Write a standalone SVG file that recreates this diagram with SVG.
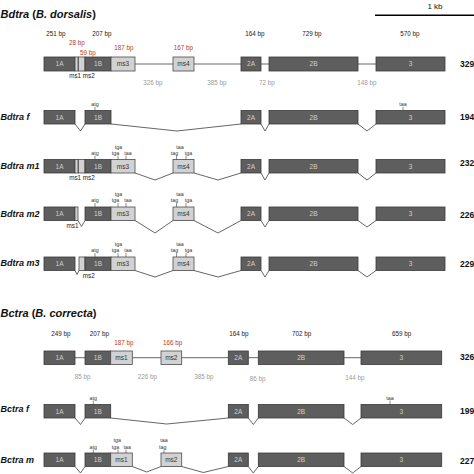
<svg xmlns="http://www.w3.org/2000/svg" width="474" height="474" viewBox="0 0 474 474">
<style>
.dk{fill:#5e5e5e;stroke:#3a3a3a;stroke-width:0.8}
.lt{fill:#d2d2d2;stroke:#4a4a4a;stroke-width:0.8}
.ln{fill:none;stroke:#555;stroke-width:0.9}
.tk{stroke:#444;stroke-width:0.6}
text{font-family:"Liberation Sans",Arial,sans-serif}
.bt{font-size:6.5px;fill:#d0d0d0;text-anchor:middle}
.lbt{font-size:6.5px;fill:#333;text-anchor:middle}
.bp{font-size:6.3px;fill:#222;text-anchor:middle}
.red{fill:#c0392b}
.gr{fill:#9a9a9a}
.cd{font-size:5.3px;fill:#333;text-anchor:middle}
.rn{font-size:8.5px;font-weight:bold;fill:#111}
.tt{font-size:11px;font-weight:bold;fill:#111}
.rl{font-size:9px;font-weight:bold;font-style:italic;fill:#111}
</style>

<!-- titles and scale -->
<text class="tt" x="0.5" y="17.5"><tspan font-style="italic">Bdtra</tspan> (<tspan font-style="italic">B. dorsalis</tspan>)</text>
<text class="tt" x="0.5" y="317"><tspan font-style="italic">Bctra</tspan> (<tspan font-style="italic">B. correcta</tspan>)</text>
<g id="scale">
<line x1="375" y1="15.3" x2="476" y2="15.3" stroke="#000" stroke-width="1.5"/>
<text x="435" y="8.5" font-size="8px" text-anchor="middle" fill="#111">1 kb</text>
</g>

<!-- connectors (introns and splice lines) -->
<g id="connectors">
<!-- Bdtra gene -->
<line class="ln" x1="135" y1="64" x2="173" y2="64"/>
<line class="ln" x1="194" y1="64" x2="241" y2="64"/>
<line class="ln" x1="261" y1="64" x2="269" y2="64"/>
<line class="ln" x1="358" y1="64" x2="376" y2="64"/>
<!-- Bdtra f -->
<polyline class="ln" points="75,124 80.5,131 85,124"/>
<polyline class="ln" points="111,124 177,131 241,124"/>
<polyline class="ln" points="261,124 265,131 269,124"/>
<polyline class="ln" points="358,124 367,131 376,124"/>
<!-- Bdtra m1 -->
<polyline class="ln" points="135,173 155,180 173,173"/>
<polyline class="ln" points="194,173 218,180 241,173"/>
<polyline class="ln" points="261,173 265,180 269,173"/>
<polyline class="ln" points="358,173 367,180 376,173"/>
<!-- Bdtra m2 -->
<polyline class="ln" points="78,220.5 81.5,226.5 85,220.5"/>
<polyline class="ln" points="135,220.5 155,233 173,220.5"/>
<polyline class="ln" points="194,220.5 218,233 241,220.5"/>
<polyline class="ln" points="261,220.5 265,227 269,220.5"/>
<polyline class="ln" points="358,220.5 367,227 376,220.5"/>
<!-- Bdtra m3 -->
<polyline class="ln" points="75,270.5 77,274.5 79,270.5"/>
<polyline class="ln" points="135,270.5 155,277 173,270.5"/>
<polyline class="ln" points="194,270.5 218,277 241,270.5"/>
<polyline class="ln" points="261,270.5 265,277 269,270.5"/>
<polyline class="ln" points="358,270.5 367,277 376,270.5"/>
<!-- Bctra gene -->
<line class="ln" x1="75" y1="357.7" x2="85" y2="357.7"/>
<line class="ln" x1="132.3" y1="357.7" x2="161" y2="357.7"/>
<line class="ln" x1="181.7" y1="357.7" x2="228.3" y2="357.7"/>
<line class="ln" x1="248.3" y1="357.7" x2="258.3" y2="357.7"/>
<line class="ln" x1="344" y1="357.7" x2="361" y2="357.7"/>
<!-- Bctra f -->
<polyline class="ln" points="75,418 80.5,424.5 85,418"/>
<polyline class="ln" points="110.7,418 166.7,424 228.3,418"/>
<polyline class="ln" points="248.3,418 253.3,424.5 258.3,418"/>
<polyline class="ln" points="344,418 352.7,424.5 361,418"/>
<!-- Bctra m -->
<polyline class="ln" points="75,466.5 80.5,473 85,466.5"/>
<polyline class="ln" points="132.3,466.5 146.7,472 161,466.5"/>
<polyline class="ln" points="181.7,466.5 203.3,472.5 228.3,466.5"/>
<polyline class="ln" points="248.3,466.5 253.3,473 258.3,466.5"/>
<polyline class="ln" points="344,466.5 352.7,473 361,466.5"/>
</g>

<!-- ===== Bdtra gene ===== -->
<g id="d0">
<g id="d0-1A"><rect class="dk" x="44" y="57" width="31" height="14"/><text class="bt" x="59.5" y="66.3">1A</text></g>
<g id="d0-ms1"><rect class="lt" x="75" y="57" width="3" height="14"/></g>
<g id="d0-ms2"><rect class="lt" x="78.5" y="57" width="6.5" height="14"/></g>
<g id="d0-1B"><rect class="dk" x="85" y="57" width="26" height="14"/><text class="bt" x="98" y="66.3">1B</text></g>
<g id="d0-ms3"><rect class="lt" x="111" y="57" width="24" height="14"/><text class="lbt" x="123" y="66.3">ms3</text></g>
<g id="d0-ms4"><rect class="lt" x="173" y="57" width="21" height="14"/><text class="lbt" x="183.5" y="66.3">ms4</text></g>
<g id="d0-2A"><rect class="dk" x="241" y="57" width="20" height="14"/><text class="bt" x="251" y="66.3">2A</text></g>
<g id="d0-2B"><rect class="dk" x="269" y="57" width="89" height="14"/><text class="bt" x="313.5" y="66.3">2B</text></g>
<g id="d0-3"><rect class="dk" x="376" y="57" width="69" height="14"/><text class="bt" x="410.5" y="66.3">3</text></g>
<text class="bp" x="56" y="36">251 bp</text>
<text class="bp" x="102" y="36">207 bp</text>
<text class="bp red" x="77" y="44.5">28 bp</text>
<text class="bp red" x="88" y="54.5">59 bp</text>
<text class="bp red" x="124" y="50">187 bp</text>
<text class="bp red" x="183.5" y="50">167 bp</text>
<text class="bp" x="255" y="36">164 bp</text>
<text class="bp" x="312" y="36">729 bp</text>
<text class="bp" x="410" y="36">570 bp</text>
<text class="bp" x="82" y="78">ms1 ms2</text>
<text class="bp gr" x="153" y="84.5">326 bp</text>
<text class="bp gr" x="217" y="84.5">385 bp</text>
<text class="bp gr" x="267" y="84.5">72 bp</text>
<text class="bp gr" x="367" y="84.5">148 bp</text>
<text class="rn" x="460" y="66.5">329</text>
</g>

<!-- ===== Bdtra f ===== -->
<g id="df">
<text class="rl" x="0.5" y="120">Bdtra f</text>
<g id="df-1A"><rect class="dk" x="44" y="110.5" width="31" height="13.5"/><text class="bt" x="59.5" y="119.5">1A</text></g>
<g id="df-1B"><rect class="dk" x="85" y="110.5" width="26" height="13.5"/><text class="bt" x="98" y="119.5">1B</text></g>
<g id="df-2A"><rect class="dk" x="241" y="110.5" width="20" height="13.5"/><text class="bt" x="251" y="119.5">2A</text></g>
<g id="df-2B"><rect class="dk" x="269" y="110.5" width="89" height="13.5"/><text class="bt" x="313.5" y="119.5">2B</text></g>
<g id="df-3"><rect class="dk" x="376" y="110.5" width="69" height="13.5"/><text class="bt" x="410.5" y="119.5">3</text></g>
<text class="cd" x="95" y="106">atg</text><line class="tk" x1="95" y1="106.8" x2="95" y2="110.5"/>
<text class="cd" x="403" y="106">taa</text><line class="tk" x1="403" y1="106.8" x2="403" y2="110.5"/>
<text class="rn" x="460" y="120">194</text>
</g>

<!-- ===== Bdtra m1 ===== -->
<g id="dm1">
<text class="rl" x="0.5" y="169">Bdtra m1</text>
<g id="dm1-1A"><rect class="dk" x="44" y="159.5" width="31" height="13.5"/><text class="bt" x="59.5" y="168.5">1A</text></g>
<g id="dm1-ms1"><rect class="lt" x="75" y="159.5" width="3" height="13.5"/></g>
<g id="dm1-ms2"><rect class="lt" x="78.5" y="159.5" width="6.5" height="13.5"/></g>
<g id="dm1-1B"><rect class="dk" x="85" y="159.5" width="26" height="13.5"/><text class="bt" x="98" y="168.5">1B</text></g>
<g id="dm1-ms3"><rect class="lt" x="111" y="159.5" width="24" height="13.5"/><text class="lbt" x="123" y="168.5">ms3</text></g>
<g id="dm1-ms4"><rect class="lt" x="173" y="159.5" width="21" height="13.5"/><text class="lbt" x="183.5" y="168.5">ms4</text></g>
<g id="dm1-2A"><rect class="dk" x="241" y="159.5" width="20" height="13.5"/><text class="bt" x="251" y="168.5">2A</text></g>
<g id="dm1-2B"><rect class="dk" x="269" y="159.5" width="89" height="13.5"/><text class="bt" x="313.5" y="168.5">2B</text></g>
<g id="dm1-3"><rect class="dk" x="376" y="159.5" width="69" height="13.5"/><text class="bt" x="410.5" y="168.5">3</text></g>
<text class="bp" x="82" y="180">ms1 ms2</text>
<text class="cd" x="95" y="154.5">atg</text><line class="tk" x1="95" y1="155.5" x2="95" y2="159.5"/>
<text class="cd" x="118.5" y="148.5">tga</text>
<text class="cd" x="115.5" y="154.5">tga</text><text class="cd" x="128" y="154.5">taa</text>
<line class="tk" x1="118" y1="155.5" x2="118" y2="159.5"/><line class="tk" x1="126" y1="155.5" x2="126" y2="159.5"/>
<text class="cd" x="180" y="148.5">taa</text>
<text class="cd" x="174.5" y="154.5">tag</text><text class="cd" x="188.5" y="154.5">tga</text>
<line class="tk" x1="176.5" y1="155.5" x2="176.5" y2="159.5"/><line class="tk" x1="186" y1="155.5" x2="186" y2="159.5"/>
<text class="rn" x="460" y="166">232</text>
</g>

<!-- ===== Bdtra m2 ===== -->
<g id="dm2">
<text class="rl" x="0.5" y="216.5">Bdtra m2</text>
<g id="dm2-1A"><rect class="dk" x="44" y="207" width="31" height="13.5"/><text class="bt" x="59.5" y="216">1A</text></g>
<g id="dm2-ms1"><rect class="lt" x="75" y="207" width="3" height="13.5"/></g>
<g id="dm2-1B"><rect class="dk" x="85" y="207" width="26" height="13.5"/><text class="bt" x="98" y="216">1B</text></g>
<g id="dm2-ms3"><rect class="lt" x="111" y="207" width="24" height="13.5"/><text class="lbt" x="123" y="216">ms3</text></g>
<g id="dm2-ms4"><rect class="lt" x="173" y="207" width="21" height="13.5"/><text class="lbt" x="183.5" y="216">ms4</text></g>
<g id="dm2-2A"><rect class="dk" x="241" y="207" width="20" height="13.5"/><text class="bt" x="251" y="216">2A</text></g>
<g id="dm2-2B"><rect class="dk" x="269" y="207" width="89" height="13.5"/><text class="bt" x="313.5" y="216">2B</text></g>
<g id="dm2-3"><rect class="dk" x="376" y="207" width="69" height="13.5"/><text class="bt" x="410.5" y="216">3</text></g>
<text class="bp" x="72.5" y="228">ms1</text>
<text class="cd" x="95" y="202">atg</text><line class="tk" x1="95" y1="203" x2="95" y2="207"/>
<text class="cd" x="118.5" y="196">tga</text>
<text class="cd" x="115.5" y="202">tga</text><text class="cd" x="128" y="202">taa</text>
<line class="tk" x1="118" y1="203" x2="118" y2="207"/><line class="tk" x1="126" y1="203" x2="126" y2="207"/>
<text class="cd" x="180" y="196">taa</text>
<text class="cd" x="174.5" y="202">tag</text><text class="cd" x="188.5" y="202">tga</text>
<line class="tk" x1="176.5" y1="203" x2="176.5" y2="207"/><line class="tk" x1="186" y1="203" x2="186" y2="207"/>
<text class="rn" x="460" y="218">226</text>
</g>

<!-- ===== Bdtra m3 ===== -->
<g id="dm3">
<text class="rl" x="0.5" y="265.5">Bdtra m3</text>
<g id="dm3-1A"><rect class="dk" x="44" y="257" width="31" height="13.5"/><text class="bt" x="59.5" y="266">1A</text></g>
<g id="dm3-ms2"><rect class="lt" x="79" y="257" width="6" height="13.5"/></g>
<g id="dm3-1B"><rect class="dk" x="85" y="257" width="26" height="13.5"/><text class="bt" x="98" y="266">1B</text></g>
<g id="dm3-ms3"><rect class="lt" x="111" y="257" width="24" height="13.5"/><text class="lbt" x="123" y="266">ms3</text></g>
<g id="dm3-ms4"><rect class="lt" x="173" y="257" width="21" height="13.5"/><text class="lbt" x="183.5" y="266">ms4</text></g>
<g id="dm3-2A"><rect class="dk" x="241" y="257" width="20" height="13.5"/><text class="bt" x="251" y="266">2A</text></g>
<g id="dm3-2B"><rect class="dk" x="269" y="257" width="89" height="13.5"/><text class="bt" x="313.5" y="266">2B</text></g>
<g id="dm3-3"><rect class="dk" x="376" y="257" width="69" height="13.5"/><text class="bt" x="410.5" y="266">3</text></g>
<text class="bp" x="88.7" y="277.5">ms2</text>
<text class="cd" x="95" y="252">atg</text><line class="tk" x1="95" y1="253" x2="95" y2="257"/>
<text class="cd" x="118.5" y="245.5">tga</text>
<text class="cd" x="115.5" y="252">tga</text><text class="cd" x="128" y="252">taa</text>
<line class="tk" x1="118" y1="253" x2="118" y2="257"/><line class="tk" x1="126" y1="253" x2="126" y2="257"/>
<text class="cd" x="180" y="245.5">taa</text>
<text class="cd" x="174.5" y="252">tag</text><text class="cd" x="188.5" y="252">tga</text>
<line class="tk" x1="176.5" y1="253" x2="176.5" y2="257"/><line class="tk" x1="186" y1="253" x2="186" y2="257"/>
<text class="rn" x="460" y="266.5">229</text>
</g>

<!-- ===== Bctra gene ===== -->
<g id="c0">
<g id="c0-1A"><rect class="dk" x="44" y="351" width="31" height="13.5"/><text class="bt" x="59.5" y="360">1A</text></g>
<g id="c0-1B"><rect class="dk" x="85" y="351" width="25.7" height="13.5"/><text class="bt" x="97.8" y="360">1B</text></g>
<g id="c0-ms1"><rect class="lt" x="110.7" y="351" width="21.6" height="13.5"/><text class="lbt" x="121.5" y="360">ms1</text></g>
<g id="c0-ms2"><rect class="lt" x="161" y="351" width="20.7" height="13.5"/><text class="lbt" x="171.3" y="360">ms2</text></g>
<g id="c0-2A"><rect class="dk" x="228.3" y="351" width="20" height="13.5"/><text class="bt" x="238.3" y="360">2A</text></g>
<g id="c0-2B"><rect class="dk" x="258.3" y="351" width="85.7" height="13.5"/><text class="bt" x="301.2" y="360">2B</text></g>
<g id="c0-3"><rect class="dk" x="361" y="351" width="80.7" height="13.5"/><text class="bt" x="401.3" y="360">3</text></g>
<text class="bp" x="61" y="336">249 bp</text>
<text class="bp" x="99.3" y="336">207 bp</text>
<text class="bp red" x="124" y="345">187 bp</text>
<text class="bp red" x="172.7" y="345">166 bp</text>
<text class="bp" x="239" y="336">164 bp</text>
<text class="bp" x="301.7" y="336">702 bp</text>
<text class="bp" x="401.7" y="336">659 bp</text>
<text class="bp gr" x="82.7" y="379">85 bp</text>
<text class="bp gr" x="147.3" y="379">226 bp</text>
<text class="bp gr" x="204" y="379">385 bp</text>
<text class="bp gr" x="257.7" y="380.5">86 bp</text>
<text class="bp gr" x="355" y="379.5">144 bp</text>
<text class="rn" x="460" y="360">326</text>
</g>

<!-- ===== Bctra f ===== -->
<g id="cf">
<text class="rl" x="0.5" y="412">Bctra f</text>
<g id="cf-1A"><rect class="dk" x="44" y="404.5" width="31" height="13.5"/><text class="bt" x="59.5" y="413.5">1A</text></g>
<g id="cf-1B"><rect class="dk" x="85" y="404.5" width="25.7" height="13.5"/><text class="bt" x="97.8" y="413.5">1B</text></g>
<g id="cf-2A"><rect class="dk" x="228.3" y="404.5" width="20" height="13.5"/><text class="bt" x="238.3" y="413.5">2A</text></g>
<g id="cf-2B"><rect class="dk" x="258.3" y="404.5" width="85.7" height="13.5"/><text class="bt" x="301.2" y="413.5">2B</text></g>
<g id="cf-3"><rect class="dk" x="361" y="404.5" width="80.7" height="13.5"/><text class="bt" x="401.3" y="413.5">3</text></g>
<text class="cd" x="93.3" y="399.5">atg</text><line class="tk" x1="93.3" y1="400.5" x2="93.3" y2="404.5"/>
<text class="cd" x="390" y="399.5">taa</text><line class="tk" x1="390" y1="400.5" x2="390" y2="404.5"/>
<text class="rn" x="460" y="413.5">199</text>
</g>

<!-- ===== Bctra m ===== -->
<g id="cm">
<text class="rl" x="0.5" y="463">Bctra m</text>
<g id="cm-1A"><rect class="dk" x="44" y="453" width="31" height="13.5"/><text class="bt" x="59.5" y="462">1A</text></g>
<g id="cm-1B"><rect class="dk" x="85" y="453" width="25.7" height="13.5"/><text class="bt" x="97.8" y="462">1B</text></g>
<g id="cm-ms1"><rect class="lt" x="110.7" y="453" width="21.6" height="13.5"/><text class="lbt" x="121.5" y="462">ms1</text></g>
<g id="cm-ms2"><rect class="lt" x="161" y="453" width="20.7" height="13.5"/><text class="lbt" x="171.3" y="462">ms2</text></g>
<g id="cm-2A"><rect class="dk" x="228.3" y="453" width="20" height="13.5"/><text class="bt" x="238.3" y="462">2A</text></g>
<g id="cm-2B"><rect class="dk" x="258.3" y="453" width="85.7" height="13.5"/><text class="bt" x="301.2" y="462">2B</text></g>
<g id="cm-3"><rect class="dk" x="361" y="453" width="80.7" height="13.5"/><text class="bt" x="401.3" y="462">3</text></g>
<text class="cd" x="93.3" y="448.5">atg</text><line class="tk" x1="93.3" y1="449.5" x2="93.3" y2="453"/>
<text class="cd" x="117.3" y="442">tga</text>
<text class="cd" x="115.5" y="448.5">tga</text><text class="cd" x="127.3" y="448.5">taa</text>
<line class="tk" x1="118" y1="449.5" x2="118" y2="453"/><line class="tk" x1="126" y1="449.5" x2="126" y2="453"/>
<text class="cd" x="164" y="442">taa</text>
<text class="cd" x="162.7" y="448.5">tag</text>
<line class="tk" x1="164" y1="449.5" x2="164" y2="453"/>
<text class="rn" x="460" y="463.5">227</text>
</g>
</svg>
